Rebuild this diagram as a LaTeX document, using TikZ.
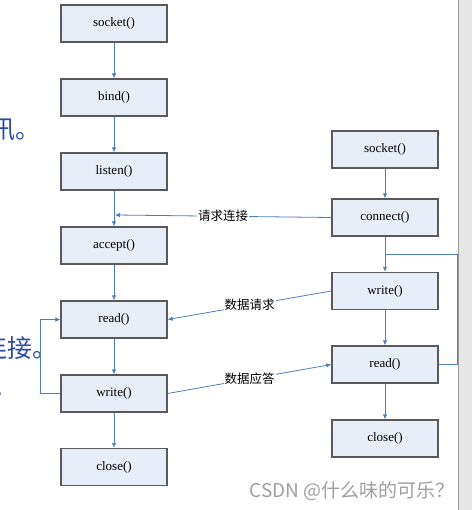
\documentclass[tikz,border=0pt]{standalone}
\usepackage{fontspec}
\setmainfont{Liberation Serif}
\newfontfamily\cjk{Noto Sans CJK SC}
\usetikzlibrary{arrows.meta}
\definecolor{flowline}{HTML}{4F7EBD}
\definecolor{boxfill}{HTML}{E8EEF8}
\definecolor{boxline}{HTML}{595959}
\definecolor{slideblue}{HTML}{2B4BA6}
\definecolor{stripgrey}{HTML}{E6E6E6}
\tikzset{
    >={Latex[length=5pt,width=4.5pt]},
    flow/.style={
        call/.append style={draw=boxline,line width=1.3pt,fill=boxfill,minimum width=106pt,minimum height=37pt,inner sep=0pt,font=\fontsize{13}{15}\selectfont},
        msg/.append style={fill=white,inner sep=1pt,font=\cjk\fontsize{12.5}{14}\selectfont},
        slide/.append style={anchor=west,inner sep=0pt,text=slideblue,font=\cjk\fontsize{25}{28}\selectfont},
        every edge/.append style={draw=flowline,line width=0.8pt}
    }
}

\begin{document}
\begin{tikzpicture}[flow,x=1pt,y=-1pt]
    \useasboundingbox (0,0) rectangle (472,510);
    \clip (0,0) rectangle (472,510);
    \fill[stripgrey] (458,0) rectangle (472,510);
    \draw[gray!80,line width=0.8pt] (458,0) -- (458,510);
    % text cut off at the left edge
    \node[slide] (frag1) at (-10,129) {讯。};
    \node[slide] (frag2) at (-18,348) {连接。};
    \node[slide] (frag3) at (-8,394) {。};
    % server
    \node[call] (lsock) at (114,23.5) {socket()};
    \node[call] (lbind) at (114,97.5) {bind()};
    \node[call] (llisten) at (114,171.5) {listen()};
    \node[call] (laccept) at (114,245.5) {accept()};
    \node[call] (lread) at (114,319.5) {read()};
    \node[call] (lwrite) at (114,393.5) {write()};
    \node[call] (lclose) at (114,467) {close()};
    % client
    \node[call] (rsock) at (385,149.5) {socket()};
    \node[call] (rconn) at (385,217.5) {connect()};
    \node[call] (rwrite) at (385,291) {write()};
    \node[call] (rread) at (385,364.5) {read()};
    \node[call] (rclose) at (385,438.5) {close()};
    \coordinate (req) at (115,215);
    \coordinate (rjoin) at (385,254);
    \coordinate (rcorner) at (457,254);
    \path (lsock) edge[->] (lbind);
    \path (lbind) edge[->] (llisten);
    \path (llisten) edge[->] (laccept);
    \path (laccept) edge[->] (lread);
    \path (lread) edge[->] (lwrite);
    \path (lwrite) edge[->] (lclose);
    \path (rsock) edge[->] (rconn);
    \path (rconn) edge[->] (rwrite);
    \path (rwrite) edge[->] (rread);
    \path (rread) edge[->] (rclose);
    \path (rconn.west) edge[->] node[msg] {请求连接} (req);
    \path (rwrite.west) edge[->] node[msg] {数据请求} (lread.east);
    \path (lwrite.east) edge[->] node[msg] {数据应答} (rread.west);
    \draw[flowline,line width=0.8pt,->] (lwrite.west) -- ++(-20,0) |- (lread.west);
    \draw[flowline,line width=0.8pt] (rread.east) -| (rcorner) -- (rjoin);
    \node[anchor=east,inner sep=0pt,text=gray!75,font=\cjk\fontsize{19}{21}\selectfont] (mark) at (455,491) {CSDN @什么味的可乐？};
\end{tikzpicture}
\end{document}
